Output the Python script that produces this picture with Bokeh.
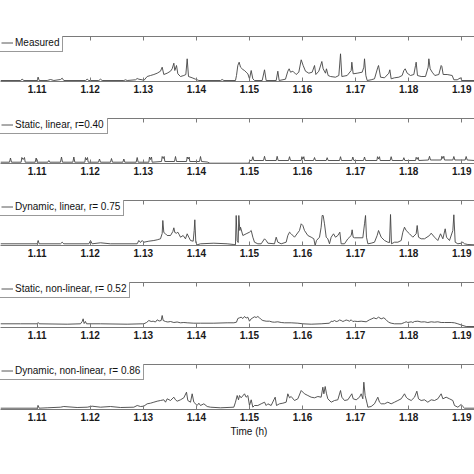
from bokeh.plotting import figure
from bokeh.layouts import column
from bokeh.models import (Range1d, LinearAxis, FixedTicker, NumeralTickFormatter,
                          Legend, LegendItem, Title)
from bokeh.embed import file_html
from bokeh.resources import INLINE

# ---------------- data (time in h, signal in arbitrary units) ----------------
tick_values = [1.11, 1.12, 1.13, 1.14, 1.15, 1.16, 1.17, 1.18, 1.19]

measured = [
    (1.10310, 0.1), (1.10687, 0.1), (1.10718, 0.23), (1.10750, 0.1), (1.11001, 0.1),
    (1.11020, 0.43), (1.11038, 0.1), (1.11189, 0.1), (1.11252, 0.2), (1.11315, 0.1),
    (1.11440, 0.2), (1.11472, 0.33), (1.11503, 0.1), (1.11911, 0.1), (1.11943, 0.23),
    (1.11974, 0.1), (1.12162, 0.1), (1.12194, 0.23), (1.12225, 0.1), (1.12634, 0.1),
    (1.12665, 0.17), (1.12697, 0.1), (1.12853, 0.17), (1.12885, 0.3), (1.12916, 0.23),
    (1.12979, 0.17), (1.13010, 0.1), (1.13073, 0.5), (1.13136, 0.6), (1.13199, 0.7),
    (1.13262, 0.83), (1.13324, 1.03), (1.13356, 1.43), (1.13387, 0.7), (1.13450, 0.83),
    (1.13513, 1.03), (1.13544, 1.27), (1.13576, 1.83), (1.13594, 1.1), (1.13626, 1.6),
    (1.13651, 0.77), (1.13701, 0.5), (1.13764, 0.6), (1.13802, 0.7), (1.13827, 2.27),
    (1.13852, 0.5), (1.13921, 0.37), (1.13984, 0.23), (1.14047, 0.1), (1.14455, 0.1),
    (1.14486, 0.2), (1.14518, 0.1), (1.14737, 0.1), (1.14756, 0.6), (1.14781, 1.6),
    (1.14806, 1.93), (1.14832, 1.43), (1.14876, 1.2), (1.14907, 1.1), (1.14938, 0.93),
    (1.14970, 0.77), (1.15001, 0.27), (1.15033, 1.1), (1.15064, 0.27), (1.15095, 0.1),
    (1.15240, 0.1), (1.15284, 1.17), (1.15315, 0.1), (1.15504, 0.1), (1.15535, 1.03),
    (1.15560, 0.1), (1.15679, 0.23), (1.15723, 1.03), (1.15748, 1.27), (1.15774, 0.93),
    (1.15818, 1.03), (1.15880, 0.7), (1.15930, 0.93), (1.15975, 2.17), (1.16012, 1.6),
    (1.16056, 1.03), (1.16119, 0.83), (1.16182, 0.93), (1.16226, 1.6), (1.16251, 0.7),
    (1.16307, 1.03), (1.16351, 1.77), (1.16364, 2.0), (1.16389, 1.27), (1.16433, 0.83),
    (1.16451, 1.27), (1.16483, 0.6), (1.16527, 0.5), (1.16621, 0.43), (1.16684, 0.6),
    (1.16716, 2.77), (1.16741, 0.5), (1.16841, 0.6), (1.16917, 1.1), (1.16929, 1.93),
    (1.16954, 0.77), (1.17030, 0.83), (1.17124, 0.93), (1.17155, 1.43), (1.17168, 2.27),
    (1.17193, 0.6), (1.17218, 0.1), (1.17293, 0.17), (1.17356, 0.27), (1.17419, 1.43),
    (1.17432, 1.6), (1.17470, 0.43), (1.17545, 0.37), (1.17626, 0.83), (1.17645, 1.17),
    (1.17670, 0.27), (1.17733, 0.37), (1.17815, 0.43), (1.17877, 0.6), (1.17909, 1.1),
    (1.17934, 1.27), (1.17972, 0.83), (1.18034, 0.6), (1.18097, 0.7), (1.18129, 1.6),
    (1.18141, 1.93), (1.18166, 0.6), (1.18235, 0.5), (1.18317, 0.5), (1.18367, 1.43),
    (1.18380, 2.27), (1.18405, 1.27), (1.18443, 0.93), (1.18493, 0.6), (1.18568, 0.7),
    (1.18612, 1.6), (1.18625, 1.5), (1.18650, 0.7), (1.18725, 0.7), (1.18820, 0.6),
    (1.18851, 0.17), (1.18914, 0.17), (1.18977, 0.37), (1.19002, 0.1), (1.19240, 0.1),
]

static_linear = [
    (1.10310, 0.13), (1.10480, 0.13), (1.10498, 0.55), (1.10517, 0.13), (1.10699, 0.13),
    (1.10712, 0.6), (1.10737, 0.4), (1.10762, 0.6), (1.10775, 0.13), (1.10963, 0.13),
    (1.10982, 0.55), (1.11001, 0.13), (1.11202, 0.13), (1.11221, 0.3), (1.11239, 0.13),
    (1.11440, 0.13), (1.11459, 0.65), (1.11478, 0.13), (1.11673, 0.13), (1.11692, 0.65),
    (1.11710, 0.13), (1.11899, 0.13), (1.11911, 0.6), (1.11930, 0.35), (1.11949, 0.6),
    (1.11962, 0.13), (1.12156, 0.13), (1.12175, 0.45), (1.12194, 0.13), (1.12382, 0.13),
    (1.12401, 0.5), (1.12420, 0.13), (1.12615, 0.13), (1.12634, 0.45), (1.12652, 0.13),
    (1.12866, 0.13), (1.12885, 0.6), (1.12904, 0.13), (1.13105, 0.13), (1.13117, 0.65),
    (1.13136, 0.4), (1.13155, 0.65), (1.13167, 0.13), (1.13343, 0.2), (1.13356, 0.7),
    (1.13375, 0.5), (1.13393, 0.7), (1.13406, 0.2), (1.13588, 0.2), (1.13607, 0.7),
    (1.13626, 0.2), (1.13814, 0.2), (1.13827, 0.65), (1.13846, 0.45), (1.13864, 0.65),
    (1.13877, 0.2), (1.14059, 0.2), (1.14078, 0.7), (1.14097, 0.2), (1.14204, 0.15),
    (1.14254, 0.03), (1.14989, 0.03), (1.15007, 0.3), (1.15045, 0.3), (1.15064, 0.68),
    (1.15083, 0.3), (1.15265, 0.3), (1.15284, 0.72), (1.15303, 0.3), (1.15504, 0.3),
    (1.15522, 0.72), (1.15541, 0.3), (1.15736, 0.3), (1.15755, 0.68), (1.15774, 0.3),
    (1.15975, 0.3), (1.15988, 0.68), (1.16006, 0.45), (1.16025, 0.68), (1.16037, 0.3),
    (1.16207, 0.3), (1.16226, 0.6), (1.16245, 0.3), (1.16446, 0.3), (1.16464, 0.58),
    (1.16483, 0.3), (1.16697, 0.3), (1.16716, 0.68), (1.16734, 0.3), (1.16929, 0.3),
    (1.16948, 0.65), (1.16967, 0.3), (1.17149, 0.3), (1.17168, 0.65), (1.17187, 0.3),
    (1.17401, 0.3), (1.17413, 0.68), (1.17432, 0.45), (1.17450, 0.68), (1.17463, 0.3),
    (1.17651, 0.3), (1.17670, 0.68), (1.17689, 0.3), (1.17890, 0.3), (1.17909, 0.58),
    (1.17928, 0.3), (1.18129, 0.3), (1.18141, 0.62), (1.18160, 0.42), (1.18179, 0.62),
    (1.18191, 0.3), (1.18373, 0.35), (1.18392, 0.72), (1.18411, 0.35), (1.18612, 0.35),
    (1.18625, 0.72), (1.18644, 0.5), (1.18662, 0.72), (1.18675, 0.35), (1.18832, 0.35),
    (1.18851, 0.7), (1.18870, 0.35), (1.19064, 0.35), (1.19083, 0.7), (1.19102, 0.35),
    (1.19240, 0.3),
]

dynamic_linear = [
    (1.10310, 0.17), (1.11001, 0.17), (1.11020, 0.5), (1.11038, 0.17), (1.11440, 0.17),
    (1.11472, 0.33), (1.11503, 0.17), (1.11974, 0.17), (1.12006, 0.5), (1.12037, 0.17),
    (1.12194, 0.27), (1.12382, 0.17), (1.12885, 0.17), (1.12916, 0.5), (1.12948, 0.3),
    (1.12979, 0.5), (1.13010, 0.33), (1.13105, 0.43), (1.13199, 0.5), (1.13262, 0.57),
    (1.13324, 0.67), (1.13356, 1.2), (1.13368, 2.5), (1.13387, 1.3), (1.13419, 1.17),
    (1.13450, 1.0), (1.13513, 1.0), (1.13557, 1.4), (1.13576, 1.77), (1.13594, 1.3),
    (1.13626, 1.23), (1.13651, 1.33), (1.13676, 1.1), (1.13701, 0.83), (1.13751, 1.0),
    (1.13795, 0.67), (1.13827, 1.17), (1.13858, 0.83), (1.13890, 0.5), (1.13940, 0.43),
    (1.13959, 1.5), (1.13971, 2.57), (1.13990, 0.3), (1.14015, 0.07), (1.14078, 0.17),
    (1.14329, 0.23), (1.14580, 0.17), (1.14706, 0.1), (1.14737, 0.07), (1.14750, 3.0),
    (1.14769, 0.5), (1.14788, 0.3), (1.14800, 3.0), (1.14819, 1.5), (1.14832, 1.83),
    (1.14876, 1.0), (1.14938, 1.17), (1.15001, 1.33), (1.15033, 1.5), (1.15064, 0.83),
    (1.15095, 0.33), (1.15158, 0.17), (1.15221, 0.17), (1.15284, 0.67), (1.15315, 0.5),
    (1.15347, 0.23), (1.15472, 0.17), (1.15504, 0.83), (1.15535, 0.33), (1.15598, 0.17),
    (1.15692, 0.33), (1.15723, 1.0), (1.15755, 1.33), (1.15786, 1.17), (1.15849, 0.83),
    (1.15943, 1.5), (1.15975, 2.17), (1.16006, 2.0), (1.16037, 1.5), (1.16100, 1.0),
    (1.16163, 0.83), (1.16213, 0.67), (1.16238, 0.0), (1.16263, 0.5), (1.16320, 0.83),
    (1.16351, 1.83), (1.16370, 3.0), (1.16389, 3.0), (1.16414, 2.17), (1.16446, 0.83),
    (1.16477, 0.67), (1.16508, 0.17), (1.16540, 0.83), (1.16584, 1.17), (1.16621, 0.83),
    (1.16665, 1.0), (1.16703, 1.33), (1.16728, 0.17), (1.16791, 0.17), (1.16854, 0.67),
    (1.16917, 1.0), (1.16935, 1.57), (1.16954, 0.83), (1.16979, 0.77), (1.17136, 0.77),
    (1.17168, 2.17), (1.17187, 3.0), (1.17205, 0.83), (1.17231, 0.17), (1.17293, 0.23),
    (1.17356, 0.33), (1.17406, 1.0), (1.17432, 1.5), (1.17482, 0.83), (1.17545, 0.5),
    (1.17607, 0.33), (1.17639, 0.3), (1.17658, 3.1), (1.17676, 0.17), (1.17733, 0.33),
    (1.17796, 0.33), (1.17859, 0.5), (1.17890, 1.33), (1.17921, 1.83), (1.17953, 1.5),
    (1.18016, 1.17), (1.18078, 0.83), (1.18141, 1.17), (1.18160, 2.0), (1.18185, 0.83),
    (1.18235, 0.67), (1.18298, 0.67), (1.18392, 1.0), (1.18424, 1.23), (1.18487, 0.83),
    (1.18549, 0.5), (1.18600, 1.17), (1.18644, 0.67), (1.18688, 1.67), (1.18713, 0.83),
    (1.18769, 0.5), (1.18832, 1.5), (1.18851, 3.07), (1.18876, 0.33), (1.18926, 0.17),
    (1.18989, 0.23), (1.19020, 0.33), (1.19052, 0.17), (1.19115, 0.1), (1.19240, 0.07),
]

static_nonlinear = [
    (1.10310, 0.37), (1.10688, 0.37), (1.11001, 0.37), (1.11020, 0.5), (1.11038, 0.37),
    (1.11566, 0.33), (1.11817, 0.37), (1.11849, 0.6), (1.11867, 0.87), (1.11886, 0.4),
    (1.11911, 0.6), (1.11930, 0.37), (1.12194, 0.37), (1.12696, 0.33), (1.12979, 0.37),
    (1.13010, 0.37), (1.13061, 0.5), (1.13105, 0.7), (1.13149, 0.6), (1.13186, 0.63),
    (1.13230, 0.55), (1.13262, 0.77), (1.13299, 0.65), (1.13337, 0.7), (1.13356, 1.2),
    (1.13375, 0.7), (1.13419, 0.6), (1.13463, 0.55), (1.13513, 0.6), (1.13576, 0.5),
    (1.13638, 0.55), (1.13701, 0.47), (1.13764, 0.5), (1.13827, 0.47), (1.13952, 0.43),
    (1.14078, 0.43), (1.14329, 0.43), (1.14580, 0.47), (1.14706, 0.47), (1.14756, 0.53),
    (1.14781, 0.9), (1.14813, 0.97), (1.14844, 1.03), (1.14876, 0.9), (1.14907, 1.1),
    (1.14938, 0.95), (1.14970, 1.03), (1.15001, 0.63), (1.15033, 0.87), (1.15064, 0.97),
    (1.15095, 1.07), (1.15127, 1.0), (1.15158, 1.1), (1.15190, 0.97), (1.15221, 0.8),
    (1.15252, 0.7), (1.15315, 0.63), (1.15378, 0.63), (1.15428, 0.55), (1.15472, 0.53),
    (1.15535, 0.57), (1.15598, 0.5), (1.15661, 0.47), (1.15786, 0.47), (1.15912, 0.43),
    (1.16006, 0.37), (1.16163, 0.33), (1.16351, 0.37), (1.16508, 0.43), (1.16540, 0.63),
    (1.16571, 0.6), (1.16603, 0.7), (1.16634, 0.6), (1.16665, 0.63), (1.16697, 0.75),
    (1.16728, 0.7), (1.16760, 0.6), (1.16791, 0.67), (1.16822, 0.75), (1.16854, 0.7),
    (1.16885, 0.63), (1.16917, 0.77), (1.16948, 0.6), (1.16979, 0.63), (1.17042, 0.6),
    (1.17105, 0.63), (1.17199, 0.57), (1.17262, 0.77), (1.17306, 0.87), (1.17344, 0.97),
    (1.17388, 0.87), (1.17432, 1.03), (1.17482, 0.87), (1.17532, 0.97), (1.17576, 0.77),
    (1.17620, 0.53), (1.17670, 0.43), (1.17733, 0.37), (1.17859, 0.37), (1.17921, 0.5),
    (1.17953, 0.57), (1.17984, 0.5), (1.18047, 0.57), (1.18078, 0.5), (1.18110, 0.6),
    (1.18173, 0.63), (1.18235, 0.55), (1.18298, 0.57), (1.18361, 0.5), (1.18424, 0.57),
    (1.18487, 0.53), (1.18549, 0.57), (1.18612, 0.5), (1.18675, 0.5), (1.18801, 0.5),
    (1.18863, 0.47), (1.18926, 0.37), (1.19002, 0.23), (1.19083, 0.1), (1.19240, 0.1),
]

dynamic_nonlinear = [
    (1.10310, 0.13), (1.11001, 0.13), (1.11020, 0.4), (1.11038, 0.13), (1.11189, 0.17),
    (1.11440, 0.23), (1.11503, 0.3), (1.11754, 0.2), (1.11943, 0.23), (1.12037, 0.33),
    (1.12194, 0.23), (1.12382, 0.3), (1.12571, 0.2), (1.12822, 0.23), (1.12885, 0.4),
    (1.12948, 0.3), (1.13010, 0.33), (1.13073, 0.57), (1.13136, 0.63), (1.13199, 0.73),
    (1.13262, 0.83), (1.13324, 0.9), (1.13387, 0.97), (1.13419, 0.73), (1.13450, 1.07),
    (1.13513, 0.9), (1.13576, 1.23), (1.13607, 0.97), (1.13638, 0.83), (1.13701, 0.97),
    (1.13764, 1.17), (1.13814, 1.73), (1.13839, 0.9), (1.13890, 0.73), (1.13921, 1.57),
    (1.13952, 0.73), (1.14015, 0.4), (1.14047, 0.63), (1.14078, 0.4), (1.14141, 0.57),
    (1.14204, 0.3), (1.14266, 0.23), (1.14455, 0.17), (1.14706, 0.23), (1.14737, 0.73),
    (1.14769, 1.4), (1.14794, 0.97), (1.14813, 1.4), (1.14844, 1.17), (1.14907, 1.57),
    (1.14938, 1.23), (1.14970, 1.4), (1.15001, 0.4), (1.15033, 0.97), (1.15064, 0.23),
    (1.15095, 0.4), (1.15158, 0.4), (1.15221, 0.57), (1.15284, 0.73), (1.15315, 0.4),
    (1.15347, 0.57), (1.15409, 0.4), (1.15460, 0.97), (1.15485, 1.23), (1.15510, 0.4),
    (1.15566, 0.57), (1.15629, 0.63), (1.15692, 0.73), (1.15723, 1.57), (1.15755, 1.17),
    (1.15786, 1.3), (1.15849, 0.9), (1.15912, 1.07), (1.15975, 1.9), (1.16037, 1.57),
    (1.16100, 1.4), (1.16163, 1.23), (1.16226, 1.17), (1.16289, 1.3), (1.16351, 1.23),
    (1.16383, 2.23), (1.16402, 1.57), (1.16427, 2.3), (1.16452, 1.57), (1.16477, 1.07),
    (1.16540, 0.73), (1.16603, 0.9), (1.16665, 0.97), (1.16716, 1.9), (1.16741, 1.23),
    (1.16791, 0.9), (1.16854, 0.97), (1.16929, 1.57), (1.16954, 1.07), (1.17011, 0.97),
    (1.17074, 1.23), (1.17105, 1.57), (1.17136, 1.07), (1.17155, 2.73), (1.17180, 1.4),
    (1.17218, 0.57), (1.17231, 0.23), (1.17293, 0.3), (1.17356, 0.57), (1.17419, 1.23),
    (1.17450, 0.73), (1.17482, 0.57), (1.17545, 0.57), (1.17607, 0.73), (1.17670, 0.57),
    (1.17733, 0.73), (1.17796, 0.9), (1.17859, 1.07), (1.17921, 1.57), (1.17953, 1.23),
    (1.17984, 1.07), (1.18047, 0.9), (1.18110, 1.23), (1.18154, 1.83), (1.18185, 1.07),
    (1.18235, 0.9), (1.18298, 0.97), (1.18361, 0.73), (1.18424, 0.97), (1.18487, 0.9),
    (1.18549, 1.07), (1.18612, 1.57), (1.18644, 1.07), (1.18706, 1.23), (1.18769, 1.07),
    (1.18832, 0.9), (1.18863, 0.4), (1.18926, 0.23), (1.18989, 0.5), (1.19020, 0.3),
    (1.19052, 0.13), (1.19240, 0.13),
]

series = [
    ("Measured", measured),
    ("Static, linear, r=0.40", static_linear),
    ("Dynamic, linear, r= 0.75", dynamic_linear),
    ("Static, non-linear, r= 0.52", static_nonlinear),
    ("Dynamic, non-linear, r= 0.86", dynamic_nonlinear),
]

# ---------------- styling ----------------
FONT = "Liberation Sans"
LINE_COLOR = "#444444"
FRAME_COLOR = "#7a7a7a"
X_START, X_END = 1.1031, 1.1924
Y_START, Y_END = 0.0, 4.5
WIDTH = 474
FRAME_H = 45


def make_panel(label, pts, top, bottom, last=False):
    height = top + FRAME_H + bottom
    p = figure(width=WIDTH, height=height,
               x_range=Range1d(X_START, X_END), y_range=Range1d(Y_START, Y_END),
               x_axis_type=None, y_axis_type=None,
               output_backend="svg", toolbar_location=None,
               min_border_left=0, min_border_right=0,
               min_border_top=top, min_border_bottom=bottom)
    p.outline_line_color = None
    p.background_fill_color = "white"
    p.border_fill_color = "white"

    xb = LinearAxis(ticker=FixedTicker(ticks=tick_values),
                    formatter=NumeralTickFormatter(format="0.00"))
    xb.axis_line_color = FRAME_COLOR
    xb.major_tick_line_color = FRAME_COLOR
    xb.major_tick_in = 4
    xb.major_tick_out = 0
    xb.minor_tick_line_color = None
    xb.major_label_standoff = 3
    xb.major_label_text_font = FONT
    xb.major_label_text_font_size = "10px"
    xb.major_label_text_font_style = "bold"
    xb.major_label_text_color = "#1a1a1a"
    p.add_layout(xb, "below")

    xa = LinearAxis(ticker=FixedTicker(ticks=tick_values))
    xa.axis_line_color = FRAME_COLOR
    xa.major_tick_line_color = FRAME_COLOR
    xa.major_tick_in = 4
    xa.major_tick_out = 0
    xa.minor_tick_line_color = None
    xa.major_label_standoff = 0
    xa.major_label_text_font_size = "0px"
    xa.major_label_text_color = None
    p.add_layout(xa, "above")

    t = [a for a, _ in pts]
    v = [b for _, b in pts]
    r = p.line(t, v, line_color=LINE_COLOR, line_width=0.9)

    leg = Legend(items=[LegendItem(label=label, renderers=[r])], location=(-3, 29))
    leg.border_line_color = "#333333"
    leg.border_line_width = 1
    leg.background_fill_color = "white"
    leg.background_fill_alpha = 1.0
    leg.padding = 3
    leg.spacing = 0
    leg.margin = 0
    leg.glyph_width = 12
    leg.glyph_height = 9
    leg.label_height = 9
    leg.label_standoff = 2
    leg.label_text_font = FONT
    leg.label_text_font_size = "10px"
    leg.label_text_color = "#111111"
    leg.label_text_baseline = "middle"
    p.add_layout(leg)

    if last:
        ttl = Title(text="Time (h)", align="left", offset=230,
                    text_font=FONT, text_font_size="10px",
                    text_font_style="normal", text_color="#111111", standoff=1)
        p.add_layout(ttl, "below")
    return p


panels = []
for i, (label, pts) in enumerate(series):
    top = 36 if i == 0 else 19
    bottom = 50 if i == len(series) - 1 else 18
    panels.append(make_panel(label, pts, top, bottom, last=(i == len(series) - 1)))

layout = column(*panels, spacing=0)

open("out.html", "w").write(file_html(layout, INLINE))
